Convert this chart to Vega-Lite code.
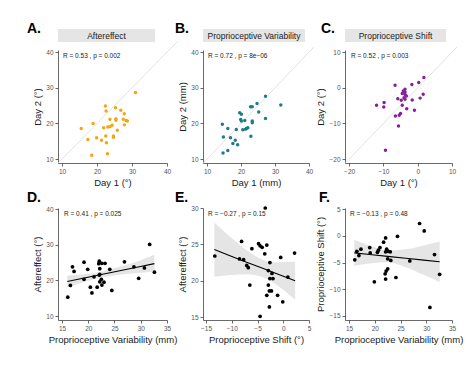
{
  "$schema": "https://vega.github.io/schema/vega-lite/v6.json",
  "padding": {"left": 27, "top": 22, "right": 5, "bottom": 5},
  "background": "white",
  "config": {
    "font": "Liberation Sans",
    "view": {"stroke": null},
    "axis": {"grid": false, "labelOverlap": false, "labelSeparation": -20, "labelFlush": false, "domainColor": "#444444", "domainWidth": 0.8, "tickColor": "#444444", "tickWidth": 0.8, "tickSize": 3, "labelFontSize": 6.5, "labelColor": "#555555", "labelPadding": 2, "titleFontSize": 9.5, "titleFontWeight": "normal", "titleColor": "#1a1a1a", "titlePadding": 3, "labelFont": "Liberation Sans", "titleFont": "Liberation Sans"},
    "axisQuantitative": {"labelOverlap": false},
    "title": {"font": "Liberation Sans"}
  },
  "datasets": {
    "A": [{"d1":31.0,"d2":28.7},{"d1":22.4,"d2":24.9},{"d1":22.6,"d2":23.5},{"d1":25.3,"d2":24.4},{"d1":26.8,"d2":23.7},{"d1":27.8,"d2":22.7},{"d1":23.7,"d2":21.2},{"d1":25.4,"d2":21.3},{"d1":25.4,"d2":20.9},{"d1":27.5,"d2":21.2},{"d1":28.3,"d2":20.8},{"d1":28.7,"d2":20.7},{"d1":18.9,"d2":20.0},{"d1":15.5,"d2":18.6},{"d1":21.9,"d2":18.8},{"d1":23.1,"d2":19.0},{"d1":23.7,"d2":19.1},{"d1":24.3,"d2":19.5},{"d1":25.8,"d2":18.1},{"d1":27.8,"d2":19.6},{"d1":17.4,"d2":15.5},{"d1":19.9,"d2":16.0},{"d1":21.3,"d2":15.3},{"d1":22.5,"d2":16.5},{"d1":24.7,"d2":16.1},{"d1":24.7,"d2":16.5},{"d1":22.7,"d2":14.6},{"d1":18.5,"d2":11.1},{"d1":23.0,"d2":11.5}],
    "B": [{"d1":27.2,"d2":27.6},{"d1":31.7,"d2":25.2},{"d1":24.7,"d2":25.6},{"d1":22.8,"d2":24.7},{"d1":23.3,"d2":24.7},{"d1":25.2,"d2":23.2},{"d1":19.6,"d2":23.0},{"d1":20.1,"d2":22.6},{"d1":27.2,"d2":21.4},{"d1":19.9,"d2":21.1},{"d1":20.1,"d2":20.7},{"d1":21.1,"d2":20.8},{"d1":23.3,"d2":20.7},{"d1":23.3,"d2":20.2},{"d1":14.5,"d2":19.8},{"d1":18.6,"d2":18.3},{"d1":20.5,"d2":18.2},{"d1":21.3,"d2":18.4},{"d1":22.0,"d2":18.8},{"d1":21.6,"d2":18.6},{"d1":16.1,"d2":18.6},{"d1":14.8,"d2":16.2},{"d1":16.9,"d2":16.0},{"d1":22.9,"d2":16.4},{"d1":18.3,"d2":15.3},{"d1":17.6,"d2":14.4},{"d1":19.0,"d2":14.0},{"d1":16.1,"d2":12.4},{"d1":14.7,"d2":11.7}],
    "C": [{"d1":1.8,"d2":2.9},{"d1":0.3,"d2":1.5},{"d1":-1.7,"d2":0.9},{"d1":-6.6,"d2":0.7},{"d1":-3.7,"d2":-0.4},{"d1":-4.2,"d2":-0.9},{"d1":-3.7,"d2":-1.2},{"d1":-3.7,"d2":-1.9},{"d1":-4.5,"d2":-1.6},{"d1":-3.3,"d2":-2.3},{"d1":1.6,"d2":-1.8},{"d1":0.7,"d2":-2.9},{"d1":-4.0,"d2":-2.8},{"d1":-5.8,"d2":-3.1},{"d1":-4.8,"d2":-3.5},{"d1":-1.6,"d2":-3.4},{"d1":-3.7,"d2":-3.2},{"d1":-9.8,"d2":-4.1},{"d1":-12.0,"d2":-4.9},{"d1":-9.9,"d2":-5.4},{"d1":-4.5,"d2":-4.9},{"d1":-3.2,"d2":-5.9},{"d1":-0.95,"d2":-6.3},{"d1":-5.0,"d2":-7.2},{"d1":-5.4,"d2":-7.7},{"d1":-6.5,"d2":-7.9},{"d1":-5.6,"d2":-10.7},{"d1":-9.4,"d2":-17.5}],
    "D": [{"x":31.7,"y":30.1},{"x":26.9,"y":25.2},{"x":22.0,"y":24.7},{"x":22.6,"y":24.8},{"x":23.2,"y":24.8},{"x":22.1,"y":25.4},{"x":19.2,"y":25.1},{"x":17.0,"y":23.8},{"x":17.3,"y":22.5},{"x":19.9,"y":23.1},{"x":22.2,"y":23.3},{"x":24.1,"y":23.1},{"x":28.7,"y":23.8},{"x":30.7,"y":23.5},{"x":32.6,"y":22.3},{"x":22.2,"y":21.7},{"x":22.1,"y":21.5},{"x":21.1,"y":21.0},{"x":16.6,"y":18.6},{"x":19.2,"y":20.3},{"x":22.5,"y":20.3},{"x":22.2,"y":19.6},{"x":23.0,"y":19.5},{"x":22.6,"y":18.7},{"x":20.4,"y":18.1},{"x":21.7,"y":18.1},{"x":24.5,"y":17.2},{"x":20.7,"y":16.5},{"x":16.1,"y":15.3},{"x":29.6,"y":20.6}],
    "E": [{"x":-3.5,"y":30.0},{"x":-8.1,"y":25.4},{"x":-4.8,"y":25.1},{"x":-4.5,"y":24.8},{"x":-4.1,"y":24.6},{"x":-3.2,"y":24.9},{"x":-6.1,"y":24.4},{"x":-3.6,"y":23.7},{"x":2.2,"y":23.8},{"x":-13.3,"y":23.4},{"x":-0.5,"y":23.2},{"x":-8.5,"y":23.0},{"x":-7.7,"y":22.9},{"x":-2.6,"y":22.5},{"x":-7.1,"y":22.1},{"x":-6.8,"y":21.8},{"x":-2.9,"y":21.4},{"x":-2.2,"y":21.0},{"x":0.9,"y":20.5},{"x":-2.6,"y":20.3},{"x":-2.0,"y":20.3},{"x":-6.5,"y":19.4},{"x":-2.9,"y":19.4},{"x":-2.7,"y":18.6},{"x":-2.3,"y":18.6},{"x":-3.2,"y":18.0},{"x":-1.1,"y":18.0},{"x":-0.1,"y":17.1},{"x":-2.7,"y":16.4},{"x":-4.5,"y":15.1}],
    "F": [{"x":28.7,"y":2.3},{"x":29.6,"y":0.9},{"x":24.4,"y":-0.1},{"x":22.1,"y":-0.4},{"x":21.7,"y":-1.2},{"x":19.0,"y":-2.2},{"x":21.0,"y":-2.2},{"x":17.3,"y":-2.5},{"x":20.7,"y":-2.7},{"x":22.3,"y":-2.5},{"x":16.5,"y":-2.9},{"x":22.6,"y":-2.9},{"x":23.0,"y":-3.0},{"x":20.5,"y":-3.1},{"x":19.1,"y":-3.2},{"x":22.1,"y":-3.0},{"x":16.9,"y":-3.7},{"x":31.6,"y":-3.5},{"x":22.5,"y":-4.3},{"x":23.1,"y":-4.6},{"x":16.1,"y":-4.5},{"x":26.8,"y":-4.7},{"x":22.5,"y":-6.2},{"x":22.2,"y":-6.6},{"x":22.0,"y":-7.1},{"x":32.6,"y":-7.2},{"x":24.1,"y":-7.8},{"x":22.1,"y":-8.1},{"x":19.9,"y":-8.6},{"x":30.7,"y":-13.4}],
    "Dband": [{"x":16,"fit":19.7,"lo":18.1,"hi":21.3},{"x":19,"fit":20.6,"lo":19.5,"hi":21.7},{"x":22.5,"fit":21.65,"lo":20.85,"hi":22.45},{"x":26,"fit":22.7,"lo":21.6,"hi":23.8},{"x":29.5,"fit":23.75,"lo":22.1,"hi":25.4},{"x":32.6,"fit":24.7,"lo":22.6,"hi":27.2}],
    "Eband": [{"x":-13.4,"fit":24.3,"lo":20.55,"hi":28.0},{"x":-10,"fit":23.33,"lo":20.8,"hi":25.85},{"x":-7,"fit":22.52,"lo":20.9,"hi":24.15},{"x":-4,"fit":21.71,"lo":20.5,"hi":22.9},{"x":-1,"fit":20.9,"lo":19.27,"hi":22.53},{"x":2.3,"fit":20.0,"lo":17.4,"hi":22.6}],
    "Fband": [{"x":16,"fit":-3.2,"lo":-5.6,"hi":-0.8},{"x":19,"fit":-3.5,"lo":-5.17,"hi":-1.83},{"x":22.5,"fit":-3.85,"lo":-4.95,"hi":-2.75},{"x":26,"fit":-4.2,"lo":-5.87,"hi":-2.53},{"x":29.5,"fit":-4.55,"lo":-7.3,"hi":-1.8},{"x":32.6,"fit":-4.85,"lo":-8.65,"hi":-1.05}]
  },
  "columns": 3,
  "bounds": "flush",
  "align": "each",
  "spacing": {"row": 8, "column": 36},
  "concat": [
    {
      "data": {"values": [{"label": "Aftereffect"}]},
      "width": 97, "height": 13,
      "title": {"text": "A.", "anchor": "start", "frame": "group", "dx": -31, "offset": -18, "baseline": "alphabetic", "fontSize": 14, "fontWeight": "bold", "color": "#000000"},
      "view": {"fill": "#e5e5e5", "stroke": null},
      "mark": {"type": "text", "fontSize": 8.5, "color": "#1a1a1a"},
      "encoding": {"text": {"field": "label"}}
    },
    {
      "data": {"values": [{"label": "Proprioceptive Variability"}]},
      "width": 102, "height": 13,
      "title": {"text": "B.", "anchor": "start", "frame": "group", "dx": -28, "offset": -18, "baseline": "alphabetic", "fontSize": 14, "fontWeight": "bold", "color": "#000000"},
      "view": {"fill": "#e5e5e5", "stroke": null},
      "mark": {"type": "text", "fontSize": 8.5, "color": "#1a1a1a"},
      "encoding": {"text": {"field": "label"}}
    },
    {
      "data": {"values": [{"label": "Proprioceptive Shift"}]},
      "width": 101, "height": 13,
      "title": {"text": "C.", "anchor": "start", "frame": "group", "dx": -24, "offset": -18, "baseline": "alphabetic", "fontSize": 14, "fontWeight": "bold", "color": "#000000"},
      "view": {"fill": "#e5e5e5", "stroke": null},
      "mark": {"type": "text", "fontSize": 8.5, "color": "#1a1a1a"},
      "encoding": {"text": {"field": "label"}}
    },
    {
      "width": 109, "height": 113,
      "title": {"text": "R = 0.53 , p = 0.002", "anchor": "start", "frame": "group", "dx": 5, "offset": -24.5, "baseline": "alphabetic", "fontSize": 6.5, "fontWeight": "normal", "color": "#1a1a1a"},
      "layer": [
        {
          "data": {"values": [{"d1": 8.86, "d2": 8.86}, {"d1": 43, "d2": 43}]},
          "mark": {"type": "line", "color": "#d9d9d9", "strokeWidth": 0.8},
          "encoding": {
            "x": {"field": "d1", "type": "quantitative", "title": "Day 1 (°)", "scale": {"domain": [8.86, 40], "nice": false, "zero": false}, "axis": {"values": [10, 20, 30, 40], "labelOverlap": false}},
            "y": {"field": "d2", "type": "quantitative", "title": "Day 2 (°)", "scale": {"domain": [8.9, 40.6], "nice": false, "zero": false}, "axis": {"values": [10, 20, 30, 40], "labelOverlap": false}}
          }
        },
        {
          "data": {"name": "A"},
          "mark": {"type": "circle", "size": 12, "color": "#f4a60f", "opacity": 1},
          "encoding": {
            "x": {"field": "d1", "type": "quantitative", "title": "Day 1 (°)", "axis": {"values": [10, 20, 30, 40], "labelOverlap": false}},
            "y": {"field": "d2", "type": "quantitative", "title": "Day 2 (°)", "axis": {"values": [10, 20, 30, 40], "labelOverlap": false}}
          }
        }
      ]
    },
    {
      "width": 106, "height": 113,
      "title": {"text": "R = 0.72 , p = 8e−06", "anchor": "start", "frame": "group", "dx": 5, "offset": -19.2, "baseline": "alphabetic", "fontSize": 6.5, "fontWeight": "normal", "color": "#1a1a1a"},
      "layer": [
        {
          "data": {"values": [{"d1": 8.8, "d2": 8.8}, {"d1": 41.5, "d2": 41.5}]},
          "mark": {"type": "line", "color": "#d9d9d9", "strokeWidth": 0.8},
          "encoding": {
            "x": {"field": "d1", "type": "quantitative", "title": "Day 1 (mm)", "scale": {"domain": [8.8, 40], "nice": false, "zero": false}, "axis": {"values": [10, 20, 30, 40], "labelOverlap": false}},
            "y": {"field": "d2", "type": "quantitative", "title": "Day 2 (mm)", "scale": {"domain": [8.9, 40.6], "nice": false, "zero": false}, "axis": {"values": [10, 20, 30, 40], "labelOverlap": false}}
          }
        },
        {
          "data": {"name": "B"},
          "mark": {"type": "circle", "size": 12, "color": "#1b7c8a", "opacity": 1},
          "encoding": {
            "x": {"field": "d1", "type": "quantitative", "title": "Day 1 (mm)", "axis": {"values": [10, 20, 30, 40], "labelOverlap": false}},
            "y": {"field": "d2", "type": "quantitative", "title": "Day 2 (mm)", "axis": {"values": [10, 20, 30, 40], "labelOverlap": false}}
          }
        }
      ]
    },
    {
      "width": 107, "height": 113,
      "title": {"text": "R = 0.52 , p = 0.003", "anchor": "start", "frame": "group", "dx": 6, "offset": -19.2, "baseline": "alphabetic", "fontSize": 6.5, "fontWeight": "normal", "color": "#1a1a1a"},
      "layer": [
        {
          "data": {"values": [{"d1": -21.1, "d2": -21.1}, {"d1": 11.5, "d2": 11.5}]},
          "mark": {"type": "line", "color": "#d9d9d9", "strokeWidth": 0.8},
          "encoding": {
            "x": {"field": "d1", "type": "quantitative", "title": "Day 1 (°)", "scale": {"domain": [-21.2, 10], "nice": false, "zero": false}, "axis": {"values": [-20, -10, 0, 10], "labelOverlap": false}},
            "y": {"field": "d2", "type": "quantitative", "title": "Day 2 (°)", "scale": {"domain": [-21.1, 10.6], "nice": false, "zero": false}, "axis": {"values": [-20, -10, 0, 10], "labelOverlap": false}}
          }
        },
        {
          "data": {"name": "C"},
          "mark": {"type": "circle", "size": 12, "color": "#8a1d9b", "opacity": 1},
          "encoding": {
            "x": {"field": "d1", "type": "quantitative", "title": "Day 1 (°)", "axis": {"values": [-20, -10, 0, 10], "labelOverlap": false}},
            "y": {"field": "d2", "type": "quantitative", "title": "Day 2 (°)", "axis": {"values": [-20, -10, 0, 10], "labelOverlap": false}}
          }
        }
      ]
    },
    {
      "data": {"values": [{"label": ""}]},
      "width": 20, "height": 29,
      "title": {"text": "D.", "anchor": "start", "frame": "group", "dx": -31, "offset": -45, "baseline": "alphabetic", "fontSize": 14, "fontWeight": "bold", "color": "#000000"},
      "mark": {"type": "text"},
      "encoding": {"text": {"field": "label"}}
    },
    {
      "data": {"values": [{"label": ""}]},
      "width": 20, "height": 29,
      "title": {"text": "E.", "anchor": "start", "frame": "group", "dx": -28, "offset": -45, "baseline": "alphabetic", "fontSize": 14, "fontWeight": "bold", "color": "#000000"},
      "mark": {"type": "text"},
      "encoding": {"text": {"field": "label"}}
    },
    {
      "data": {"values": [{"label": ""}]},
      "width": 20, "height": 29,
      "title": {"text": "F.", "anchor": "start", "frame": "group", "dx": -26, "offset": -45, "baseline": "alphabetic", "fontSize": 14, "fontWeight": "bold", "color": "#000000"},
      "mark": {"type": "text"},
      "encoding": {"text": {"field": "label"}}
    },
    {
      "width": 109, "height": 112,
      "title": {"text": "R = 0.41 , p = 0.025", "anchor": "start", "frame": "group", "dx": 6, "offset": -16.3, "baseline": "alphabetic", "fontSize": 6.5, "fontWeight": "normal", "color": "#1a1a1a"},
      "layer": [
        {
          "data": {"name": "Dband"},
          "mark": {"type": "area", "color": "#dcdcdc", "opacity": 0.75, "interpolate": "monotone"},
          "encoding": {
            "x": {"field": "x", "type": "quantitative", "title": "Proprioceptive Variability (mm)", "scale": {"domain": [14.24, 35], "nice": false, "zero": false}, "axis": {"values": [15, 20, 25, 30, 35], "labelOverlap": false}},
            "y": {"field": "lo", "type": "quantitative", "title": "Aftereffect (°)", "scale": {"domain": [8.9, 40.3], "nice": false, "zero": false}, "axis": {"values": [10, 20, 30, 40], "labelOverlap": false}},
            "y2": {"field": "hi"}
          }
        },
        {
          "data": {"name": "D"},
          "mark": {"type": "circle", "size": 14, "color": "#000000", "opacity": 1},
          "encoding": {
            "x": {"field": "x", "type": "quantitative", "title": "Proprioceptive Variability (mm)", "axis": {"values": [15, 20, 25, 30, 35], "labelOverlap": false}},
            "y": {"field": "y", "type": "quantitative", "title": "Aftereffect (°)", "axis": {"values": [10, 20, 30, 40], "labelOverlap": false}}
          }
        },
        {
          "data": {"name": "Dband"},
          "mark": {"type": "line", "color": "#000000", "strokeWidth": 1.1},
          "encoding": {
            "x": {"field": "x", "type": "quantitative", "title": "Proprioceptive Variability (mm)", "axis": {"values": [15, 20, 25, 30, 35], "labelOverlap": false}},
            "y": {"field": "fit", "type": "quantitative", "title": "Aftereffect (°)", "axis": {"values": [10, 20, 30, 40], "labelOverlap": false}}
          }
        }
      ]
    },
    {
      "width": 106, "height": 112,
      "title": {"text": "R = −0.27 , p = 0.15", "anchor": "start", "frame": "group", "dx": 5, "offset": -17.3, "baseline": "alphabetic", "fontSize": 6.5, "fontWeight": "normal", "color": "#1a1a1a"},
      "layer": [
        {
          "data": {"name": "Eband"},
          "mark": {"type": "area", "color": "#dcdcdc", "opacity": 0.75, "interpolate": "monotone"},
          "encoding": {
            "x": {"field": "x", "type": "quantitative", "title": "Proprioceptive Shift (°)", "scale": {"domain": [-15.6, 5], "nice": false, "zero": false}, "axis": {"values": [-15, -10, -5, 0, 5], "labelOverlap": false}},
            "y": {"field": "lo", "type": "quantitative", "title": "Aftereffect (°)", "scale": {"domain": [14.6, 30], "nice": false, "zero": false}, "axis": {"values": [15, 20, 25, 30], "labelOverlap": false}},
            "y2": {"field": "hi"}
          }
        },
        {
          "data": {"name": "E"},
          "mark": {"type": "circle", "size": 14, "color": "#000000", "opacity": 1},
          "encoding": {
            "x": {"field": "x", "type": "quantitative", "title": "Proprioceptive Shift (°)", "axis": {"values": [-15, -10, -5, 0, 5], "labelOverlap": false}},
            "y": {"field": "y", "type": "quantitative", "title": "Aftereffect (°)", "axis": {"values": [15, 20, 25, 30], "labelOverlap": false}}
          }
        },
        {
          "data": {"name": "Eband"},
          "mark": {"type": "line", "color": "#000000", "strokeWidth": 1.1},
          "encoding": {
            "x": {"field": "x", "type": "quantitative", "title": "Proprioceptive Shift (°)", "axis": {"values": [-15, -10, -5, 0, 5], "labelOverlap": false}},
            "y": {"field": "fit", "type": "quantitative", "title": "Aftereffect (°)", "axis": {"values": [15, 20, 25, 30], "labelOverlap": false}}
          }
        }
      ]
    },
    {
      "width": 107, "height": 112,
      "title": {"text": "R = −0.13 , p = 0.48", "anchor": "start", "frame": "group", "dx": 5, "offset": -16.3, "baseline": "alphabetic", "fontSize": 6.5, "fontWeight": "normal", "color": "#1a1a1a"},
      "layer": [
        {
          "data": {"name": "Fband"},
          "mark": {"type": "area", "color": "#dcdcdc", "opacity": 0.75, "interpolate": "monotone"},
          "encoding": {
            "x": {"field": "x", "type": "quantitative", "title": "Proprioceptive Variability (mm)", "scale": {"domain": [14.2, 35], "nice": false, "zero": false}, "axis": {"values": [15, 20, 25, 30, 35], "labelOverlap": false}},
            "y": {"field": "lo", "type": "quantitative", "title": "Proprioceptive Shift (°)", "scale": {"domain": [-15.75, 5.2], "nice": false, "zero": false}, "axis": {"values": [-15, -10, -5, 0, 5], "labelOverlap": false}},
            "y2": {"field": "hi"}
          }
        },
        {
          "data": {"name": "F"},
          "mark": {"type": "circle", "size": 14, "color": "#000000", "opacity": 1},
          "encoding": {
            "x": {"field": "x", "type": "quantitative", "title": "Proprioceptive Variability (mm)", "axis": {"values": [15, 20, 25, 30, 35], "labelOverlap": false}},
            "y": {"field": "y", "type": "quantitative", "title": "Proprioceptive Shift (°)", "axis": {"values": [-15, -10, -5, 0, 5], "labelOverlap": false}}
          }
        },
        {
          "data": {"name": "Fband"},
          "mark": {"type": "line", "color": "#000000", "strokeWidth": 1.1},
          "encoding": {
            "x": {"field": "x", "type": "quantitative", "title": "Proprioceptive Variability (mm)", "axis": {"values": [15, 20, 25, 30, 35], "labelOverlap": false}},
            "y": {"field": "fit", "type": "quantitative", "title": "Proprioceptive Shift (°)", "axis": {"values": [-15, -10, -5, 0, 5], "labelOverlap": false}}
          }
        }
      ]
    }
  ]
}
